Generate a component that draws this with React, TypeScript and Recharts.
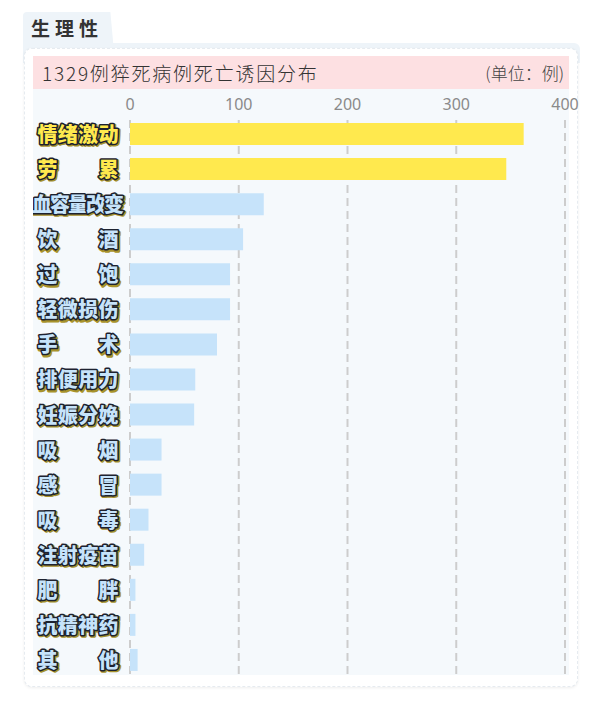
import React from 'react';
import { BarChart, Bar, XAxis, YAxis, CartesianGrid, Cell } from 'recharts';

const categories = [
  '情绪激动', '劳累', '血容量改变', '饮酒', '过饱', '轻微损伤', '手术', '排便用力',
  '妊娠分娩', '吸烟', '感冒', '吸毒', '注射疫苗', '肥胖', '抗精神药', '其他',
];
const cases = [362, 346, 123, 104, 92, 92, 80, 60, 59, 29, 29, 17, 13, 5, 5, 7];
const highlighted = ['情绪激动', '劳累'];
const xTicks = [0, 100, 200, 300, 400];

const YELLOW = '#ffe94e';
const BLUE = '#c6e3fa';

const chartData = categories.map((name, i) => ({ name, value: cases[i] }));

// 分类标签：描边 + 偏移阴影，两字标签两端对齐
const CategoryTick = ({ y, payload }: any) => {
  const label: string = payload.value;
  const isHot = highlighted.includes(label);
  const width = label.length > 4 ? 92 : 81;
  const startX = 45 - width / 2;
  const common = {
    y,
    dominantBaseline: 'central' as const,
    textLength: width,
    lengthAdjust: 'spacing' as const,
    fontSize: 20,
    fontWeight: 900,
    fontFamily: '"Noto Sans CJK SC", sans-serif',
  };
  return (
    <g>
      <text {...common} x={startX + 1.3} dy={1.3} fill="#a8932c" stroke="#a8932c" strokeWidth={3.5} strokeLinejoin="round">
        {label}
      </text>
      <text
        {...common}
        x={startX}
        fill={isHot ? YELLOW : BLUE}
        stroke="#1d2230"
        strokeWidth={3}
        strokeLinejoin="round"
        paintOrder="stroke"
      >
        {label}
      </text>
    </g>
  );
};

export default function App() {
  return (
    <div style={{ position: 'absolute', left: 0, top: 0, width: 603, height: 702, background: '#fff' }}>
      {/* 标签页 */}
      <div
        style={{
          position: 'absolute', left: 23, top: 12, width: 91, height: 40, background: '#eef4f9',
          clipPath: 'polygon(0 0, 96% 0, 100% 100%, 0 100%)', borderTopLeftRadius: 4,
        }}
      />
      <div style={{ position: 'absolute', left: 23, top: 43, width: 557, height: 20, background: '#eef4f9', borderRadius: '6px 6px 0 0' }} />
      <div
        style={{
          position: 'absolute', left: 31, top: 15, fontFamily: '"Noto Sans CJK SC", sans-serif', fontWeight: 700,
          fontSize: 19, letterSpacing: 5, color: '#333', lineHeight: '26px',
        }}
      >
        生理性
      </div>

      {/* 卡片 */}
      <div
        style={{
          position: 'absolute', left: 24, top: 48, width: 552, height: 637, background: '#fff',
          border: '1px dashed #e6ebf0', borderRadius: 8, boxShadow: '0 1px 3px rgba(0,0,0,0.07)',
        }}
      />
      <div style={{ position: 'absolute', left: 33, top: 56, width: 536, height: 33, background: '#fde0e2' }} />
      <div
        style={{
          position: 'absolute', left: 42, top: 56, height: 33, lineHeight: '33px', fontSize: 19, letterSpacing: 1.8,
          fontFamily: '"Noto Sans CJK SC", sans-serif', fontWeight: 300, color: '#333',
        }}
      >
        1329例猝死病例死亡诱因分布
      </div>
      <div
        style={{
          position: 'absolute', right: 603 - 564, top: 56, height: 33, lineHeight: '33px', fontSize: 17,
          fontFamily: '"Noto Sans CJK SC", sans-serif', fontWeight: 300, color: '#444',
        }}
      >
        (单位：例)
      </div>
      <div style={{ position: 'absolute', left: 33, top: 89, width: 536, height: 586, background: '#f5f9fc' }} />

      <div style={{ position: 'absolute', left: 33, top: 70 }}>
        <BarChart
          width={560}
          height={609}
          data={chartData}
          layout="vertical"
          margin={{ top: 0, right: 28, left: 0, bottom: 2 }}
        >
          <CartesianGrid horizontal={false} stroke="#cdcdcd" strokeWidth={2} strokeDasharray="8 5" strokeDashoffset={-4} />
          <XAxis
            type="number"
            orientation="top"
            domain={[0, 400]}
            ticks={xTicks}
            height={46}
            axisLine={false}
            tickLine={false}
            tickMargin={0}
            tick={{ fill: '#8a8a8a', fontSize: 16, fontFamily: '"Noto Sans", sans-serif' }}
          />
          <YAxis
            type="category"
            dataKey="name"
            width={97}
            axisLine={false}
            tickLine={false}
            interval={0}
            tick={<CategoryTick />}
          />
          <Bar dataKey="value" barSize={22} isAnimationActive={false}>
            {chartData.map((d) => (
              <Cell key={d.name} fill={highlighted.includes(d.name) ? YELLOW : BLUE} />
            ))}
          </Bar>
        </BarChart>
      </div>
    </div>
  );
}
